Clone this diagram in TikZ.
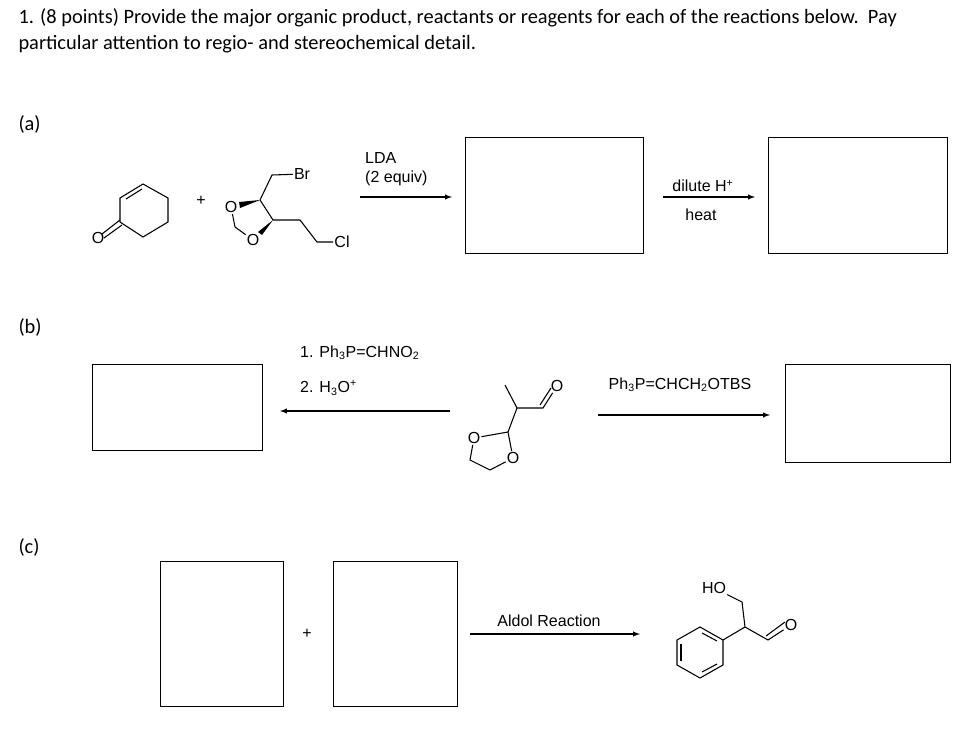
\documentclass[tikz,border=0pt]{standalone}
\usepackage{fontspec}
\setmainfont{Liberation Sans}
\newfontfamily\calib{Carlito}
\usetikzlibrary{calc}
\begin{document}
\begin{tikzpicture}[x=0.75pt,y=-0.75pt,line width=0.8pt,
  box/.style={draw,line width=1pt},
  lbl/.style={inner sep=0.5pt,font=\fontsize{12pt}{14pt}\selectfont},
  ttl/.style={inner sep=0pt,anchor=west,font=\calib\fontsize{15.3pt}{18pt}\selectfont},
  rxn/.style={-latex,line width=0.8pt}]
\useasboundingbox (0,0) rectangle (978,732);
\node[ttl] (t1) at (18,18) {1. (8 points) Provide the major organic product, reactants or reagents for each of the reactions below.~~Pay};
\node[ttl] (t2) at (18,44) {particular attention to regio- and stereochemical detail.};
\node[ttl] (la) at (18,124) {(a)};
\node[ttl] (lb) at (18,327) {(b)};
\node[ttl] (lc) at (18,547) {(c)};
% (a) cyclohexenone
\coordinate (r1) at (120,222); \coordinate (r2) at (120,198); \coordinate (r3) at (143,184);
\coordinate (r4) at (168,198); \coordinate (r5) at (168,222); \coordinate (r6) at (143,237);
\draw (r1)--(r2)--(r3)--(r4)--(r5)--(r6)--cycle;
\draw (126,199) -- (142,189);
\node[lbl] (oa) at (98,238) {O};
\draw ($(r1)+(0,-2)$) -- ($(oa)+(4,-4)$);
\draw ($(r1)+(2,3)$) -- ($(oa)+(6,0)$);
\node[lbl] (plus1) at (201,201) {+};
% dioxolane
\node[lbl] (o1) at (231,207) {O};
\node[lbl] (o2) at (253,240) {O};
\coordinate (c4) at (260,200); \coordinate (c5) at (273,220); \coordinate (cm) at (235,227);
\draw (o1) -- (cm) -- (o2);
\draw (c4) -- (c5);
\fill (c4) -- (239,202) -- (240,208) -- cycle;
\fill (c5) -- (258,232) -- (262,235) -- cycle;
\coordinate (c6) at (272,175);
\node[lbl] (br) at (302,174) {Br};
\draw (c4) -- (c6) -- (br);
\coordinate (c7) at (300,220); \coordinate (c8) at (317,242);
\node[lbl] (cl) at (342,242) {Cl};
\draw (c5) -- (c7) -- (c8) -- (cl);
% arrows (a)
\node[box,minimum width=178*0.75pt,minimum height=116*0.75pt,anchor=north west] (bx1) at (465,137) {};
\node[box,minimum width=179*0.75pt,minimum height=116*0.75pt,anchor=north west] (bx2) at (768,137) {};
\coordinate (a1s) at (360,197); \coordinate (a1e) at (452,197);
\draw[rxn] (a1s) -- (a1e);
\node[lbl,anchor=west] (lda) at (364,158) {LDA};
\node[lbl,anchor=west] (eq) at (364,178) {(2 equiv)};
\coordinate (a2s) at (663,197); \coordinate (a2e) at (755,197);
\draw[rxn] (a2s) -- (a2e);
\node[lbl] (dil) at (703,186) {dilute H\textsuperscript{+}};
\node[lbl] (heat) at (701,215) {heat};
% (b)
\node[box,minimum width=170*0.75pt,minimum height=86*0.75pt,anchor=north west] (bx3) at (92,364) {};
\node[box,minimum width=165*0.75pt,minimum height=98*0.75pt,anchor=north west] (bx4) at (785,364) {};
\coordinate (b1s) at (450,411); \coordinate (b1e) at (280,411);
\draw[rxn] (b1s) -- (b1e);
\node[lbl,anchor=west] (w1) at (299,353) {1. Ph\textsubscript{3}P=CHNO\textsubscript{2}};
\node[lbl,anchor=west] (w2) at (299,388) {2. H\textsubscript{3}O\textsuperscript{+}};
\coordinate (b2s) at (598,415); \coordinate (b2e) at (770,415);
\draw[rxn] (b2s) -- (b2e);
\node[lbl] (w3) at (680,385) {Ph\textsubscript{3}P=CHCH\textsubscript{2}OTBS};
\coordinate (me) at (505,385); \coordinate (ch) at (517,408); \coordinate (cho) at (543,408);
\node[lbl] (ob) at (557,386) {O};
\coordinate (ac) at (508,432);
\node[lbl] (ob1) at (474,438) {O};
\node[lbl] (ob2) at (513,458) {O};
\coordinate (d1) at (470,460); \coordinate (d2) at (490,470);
\draw (me) -- (ch) -- (cho) -- (ob);
\draw ($(cho)+(-3,-3)$) -- ($(ob)+(-6,2)$);
\draw (ch) -- (ac) -- (ob1) -- (d1) -- (d2) -- (ob2) -- (ac);
% (c)
\node[box,minimum width=123*0.75pt,minimum height=145*0.75pt,anchor=north west] (bx5) at (160,561) {};
\node[box,minimum width=124*0.75pt,minimum height=145*0.75pt,anchor=north west] (bx6) at (333,561) {};
\node[lbl] (plus2) at (307,634) {+};
\coordinate (c1s) at (470,634); \coordinate (c1e) at (640,634);
\draw[rxn] (c1s) -- (c1e);
\node[lbl] (ald) at (549,621) {Aldol Reaction};
\node[lbl] (ho) at (714,588) {HO};
\coordinate (p1) at (742,602); \coordinate (p2) at (745,627); \coordinate (p3) at (768,640);
\node[lbl] (oc) at (791,625) {O};
\draw (ho) -- (p1) -- (p2) -- (p3) -- (oc);
\draw ($(p3)+(-2,-4)$) -- ($(oc)+(-6,-3)$);
\coordinate (h1) at (723,640); \coordinate (h2) at (700,627); \coordinate (h3) at (677,640);
\coordinate (h4) at (677,665); \coordinate (h5) at (700,678); \coordinate (h6) at (723,665);
\draw (p2) -- (h1);
\draw (h1)--(h2)--(h3)--(h4)--(h5)--(h6)--cycle;
\draw (717,641) -- (702,633);
\draw (681,644) -- (681,661);
\draw (702,672) -- (717,664);
\end{tikzpicture}
\end{document}
